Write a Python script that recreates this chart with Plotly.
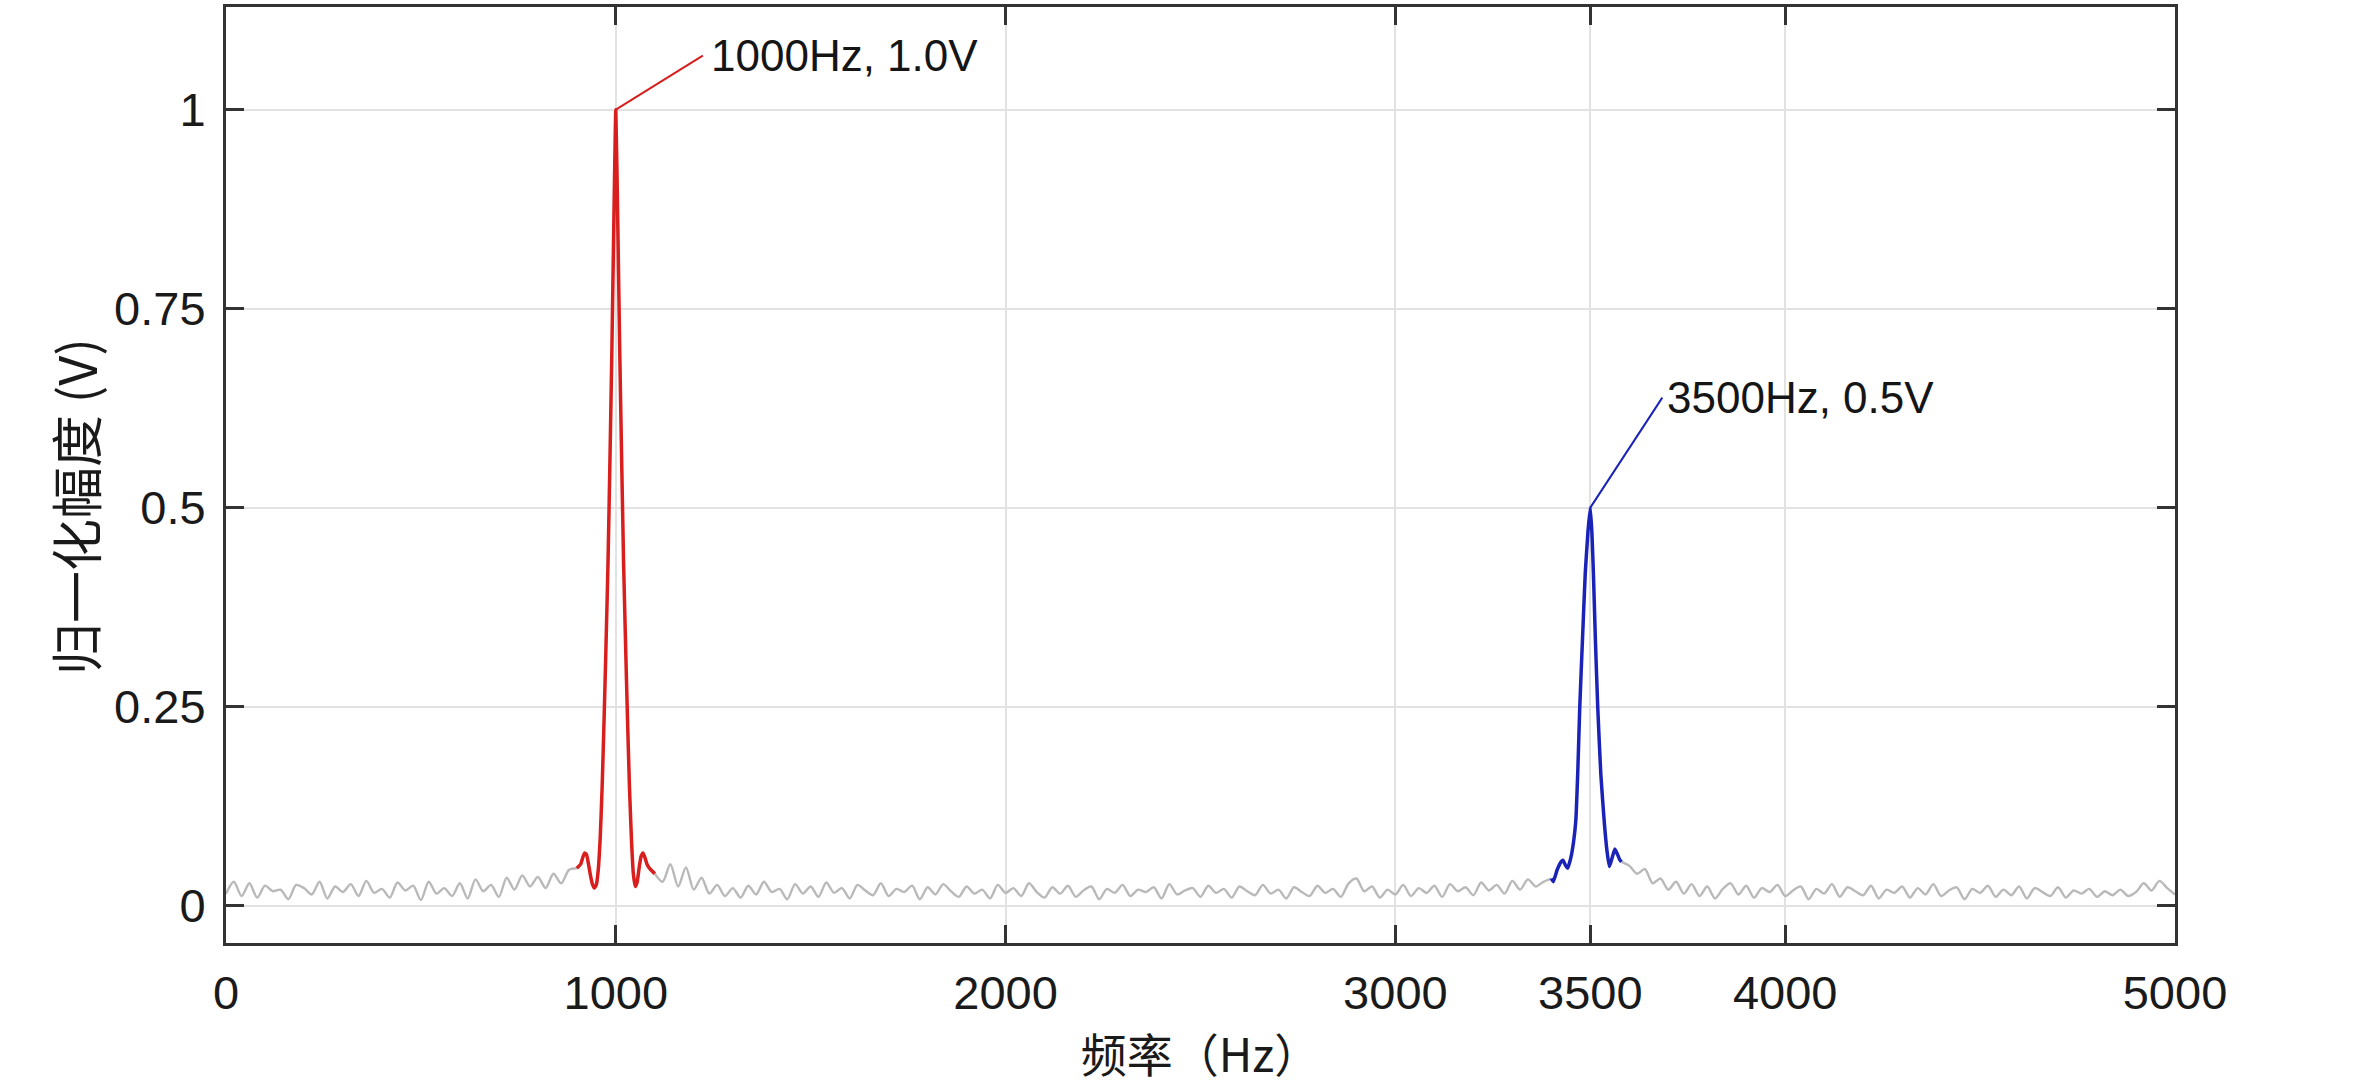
import plotly.graph_objects as go

# ---------------- data ----------------
noise_step = 20  # Hz between noise samples
noise_amp = [
    0.015, 0.030, 0.012, 0.028, 0.010, 0.025, 0.018, 0.020, 0.008, 0.026,
    0.022, 0.014, 0.030, 0.009, 0.024, 0.017, 0.027, 0.012, 0.031, 0.016,
    0.021, 0.010, 0.029, 0.019, 0.025, 0.007, 0.030, 0.015, 0.022, 0.012,
    0.028, 0.009, 0.033, 0.018, 0.026, 0.011, 0.035, 0.020, 0.038, 0.024,
    0.036, 0.022, 0.040, 0.028, 0.045, 0.047, None, None, None, None,
    None, None, None, None, None, 0.040, 0.030, 0.052, 0.024, 0.048,
    0.020, 0.035, 0.015, 0.026, 0.012, 0.022, 0.010, 0.025, 0.014, 0.030,
    0.017, 0.021, 0.008, 0.027, 0.015, 0.024, 0.011, 0.029, 0.016, 0.022,
    0.009, 0.026, 0.019, 0.013, 0.028, 0.012, 0.021, 0.017, 0.025, 0.008,
    0.023, 0.014, 0.027, 0.018, 0.011, 0.024, 0.015, 0.020, 0.009, 0.026,
    0.016, 0.022, 0.012, 0.028, 0.017, 0.010, 0.023, 0.015, 0.025, 0.011,
    0.019, 0.024, 0.008, 0.021, 0.016, 0.026, 0.012, 0.020, 0.017, 0.023,
    0.009, 0.027, 0.014, 0.019, 0.022, 0.011, 0.025, 0.016, 0.021, 0.010,
    0.024, 0.018, 0.013, 0.026, 0.015, 0.020, 0.009, 0.023, 0.017, 0.012,
    0.025, 0.016, 0.021, 0.011, 0.028, 0.034, 0.018, 0.024, 0.010, 0.020,
    0.014, 0.026, 0.012, 0.022, 0.016, 0.025, 0.011, 0.027, 0.018, 0.023,
    0.013, 0.029, 0.019, 0.026, 0.015, 0.031, 0.020, 0.033, 0.024, 0.030,
    0.034, None, None, None, None, None, None, None, None, 0.055,
    0.050, 0.040, 0.046, 0.028, 0.034, 0.020, 0.030, 0.015, 0.027, 0.012,
    0.024, 0.009, 0.021, 0.028, 0.014, 0.025, 0.010, 0.022, 0.017, 0.026,
    0.012, 0.019, 0.024, 0.008, 0.021, 0.015, 0.027, 0.011, 0.023, 0.018,
    0.013, 0.025, 0.009, 0.020, 0.016, 0.024, 0.010, 0.022, 0.014, 0.027,
    0.012, 0.019, 0.023, 0.008, 0.021, 0.016, 0.025, 0.011, 0.020, 0.013,
    0.024, 0.009, 0.022, 0.017, 0.012, 0.023, 0.010, 0.019, 0.015, 0.021,
    0.011, 0.018, 0.013, 0.020, 0.012, 0.017, 0.028, 0.019, 0.031, 0.022,
    0.014,
]
noise_freq = list(range(0, noise_step * len(noise_amp), noise_step))

peak1_freq = [900, 910, 915, 920, 925, 930, 935, 940, 945, 950, 955, 960, 965, 970, 975,
              980, 985, 990, 995, 1000, 1005, 1010, 1015, 1020, 1025, 1030, 1035, 1040,
              1045, 1050, 1055, 1060, 1065, 1070, 1075, 1080, 1085, 1090, 1100]
peak1_amp = [0.047, 0.052, 0.060, 0.066, 0.064, 0.052, 0.038, 0.027, 0.022, 0.026, 0.045,
             0.085, 0.150, 0.235, 0.330, 0.430, 0.560, 0.700, 0.860, 1.000, 0.860, 0.700,
             0.560, 0.430, 0.330, 0.235, 0.150, 0.085, 0.040, 0.024, 0.030, 0.048, 0.062,
             0.066, 0.060, 0.052, 0.048, 0.045, 0.040]

peak2_freq = [3400, 3405, 3415, 3425, 3430, 3437, 3442, 3450, 3457, 3463, 3468, 3473, 3480,
              3487, 3494, 3500, 3504, 3508, 3513, 3519, 3527, 3536, 3543, 3549, 3556, 3563,
              3570, 3575, 3580]
peak2_amp = [0.034, 0.030, 0.045, 0.055, 0.057, 0.050, 0.047, 0.060, 0.080, 0.108, 0.170,
             0.250, 0.335, 0.417, 0.470, 0.500, 0.470, 0.417, 0.335, 0.250, 0.165, 0.104,
             0.068, 0.049, 0.060, 0.071, 0.064, 0.058, 0.055]

x_tickvals = [0, 1000, 2000, 3000, 3500, 4000, 5000]
x_ticktext = ["0", "1000", "2000", "3000", "3500", "4000", "5000"]
y_tickvals = [0, 0.25, 0.5, 0.75, 1]
y_ticktext = ["0", "0.25", "0.5", "0.75", "1"]

label1 = "1000Hz, 1.0V"
label2 = "3500Hz, 0.5V"
x_title = "频率（Hz）"
y_title = "归一化幅度 (V)"

# ---------------- figure ----------------
FONT = "Liberation Sans, Arial, Noto Sans CJK SC, sans-serif"
CJK = "Noto Sans CJK SC, sans-serif"
RED = "#d91e1e"
BLUE = "#1a22b8"

fig = go.Figure()
fig.add_trace(go.Scatter(x=noise_freq, y=noise_amp, mode="lines",
                         line=dict(color="#b9b9b9", width=2.4, shape="spline", smoothing=0.8),
                         connectgaps=False, showlegend=False, hoverinfo="skip"))
fig.add_trace(go.Scatter(x=peak1_freq, y=peak1_amp, mode="lines",
                         line=dict(color=RED, width=3.5, shape="spline", smoothing=0.4),
                         showlegend=False))
fig.add_trace(go.Scatter(x=peak2_freq, y=peak2_amp, mode="lines",
                         line=dict(color=BLUE, width=3.5, shape="spline", smoothing=0.4),
                         showlegend=False))

i1 = peak1_amp.index(max(peak1_amp))
i2 = peak2_amp.index(max(peak2_amp))
fig.add_annotation(x=peak1_freq[i1], y=peak1_amp[i1], text=label1, showarrow=True,
                   arrowhead=0, arrowwidth=2, arrowcolor=RED, ax=87, ay=-54,
                   xanchor="left", yanchor="middle", borderpad=7,
                   font=dict(family=FONT, size=44, color="#151515"))
fig.add_annotation(x=peak2_freq[i2], y=peak2_amp[i2], text=label2, showarrow=True,
                   arrowhead=0, arrowwidth=2, arrowcolor=BLUE, ax=72, ay=-110,
                   xanchor="left", yanchor="middle", borderpad=4,
                   font=dict(family=FONT, size=44, color="#151515"))

# y-axis title (placed as rotated text to match the reference's vertical position)
fig.add_annotation(xref="paper", yref="paper", x=-0.0774, y=0.466, text=y_title,
                   showarrow=False, textangle=-90, xanchor="center", yanchor="middle",
                   font=dict(family=CJK, size=52, color="#1a1a1a"))

axis_common = dict(showline=True, linecolor="#333333", linewidth=3, mirror="ticks",
                   ticks="inside", ticklen=18, tickwidth=2.5, tickcolor="#333333",
                   showgrid=True, gridcolor="#e2e2e2", gridwidth=2, zeroline=False,
                   tickfont=dict(family=FONT, size=47, color="#1a1a1a"))

fig.update_xaxes(range=[0, 5000], tickvals=x_tickvals, ticktext=x_ticktext,
                 ticklabelstandoff=7,
                 title=dict(text=x_title, standoff=22,
                            font=dict(family=CJK, size=46, color="#1a1a1a")),
                 **axis_common)
fig.update_yaxes(range=[-0.047, 1.129], tickvals=y_tickvals, ticktext=y_ticktext,
                 ticklabelstandoff=8, **axis_common)

fig.update_layout(width=2367, height=1091,
                  margin=dict(l=226, r=192, t=4, b=148),
                  paper_bgcolor="white", plot_bgcolor="white",
                  font=dict(family=FONT))

fig.write_html("out.html", config={"displayModeBar": False},
               post_script="document.body.style.margin='0';document.body.style.overflow='hidden';")
